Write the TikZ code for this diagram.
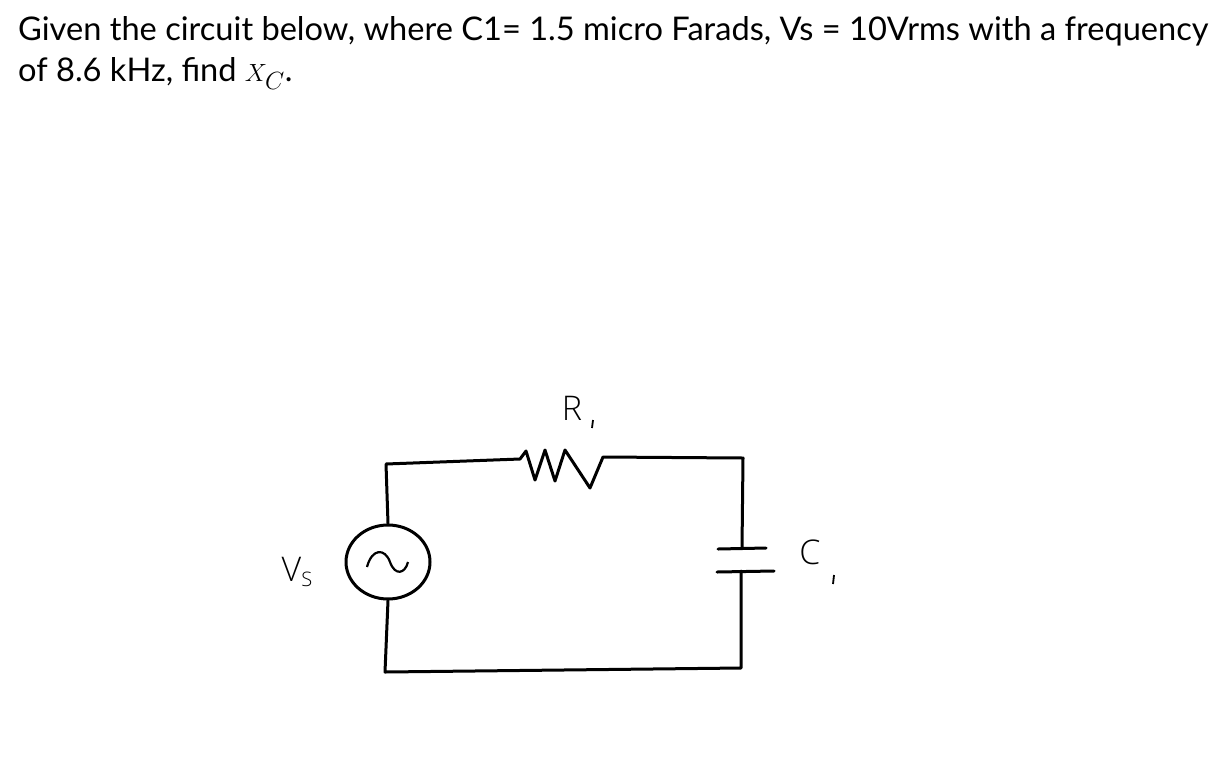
\documentclass[tikz,border=0pt]{standalone}
\usetikzlibrary{shapes.geometric}
\usepackage{fontspec}
\setmainfont{Lato}
\newfontfamily\hand{Open Sans Light}
\begin{document}
\begin{tikzpicture}[x=1pt,y=-1pt,
  wire/.style={line width=3pt,line cap=round,line join=round},
  lbl/.style={font=\hand\fontsize{34}{34}\selectfont,inner sep=0pt}]
\useasboundingbox (0,0) rectangle (1230,774);
\node[anchor=base west,inner sep=0pt,font=\fontsize{32.6}{36}\selectfont] (t1) at (18,40) {Given the circuit below, where C1= 1.5 micro Farads, Vs = 10Vrms with a frequency};
\node[anchor=base west,inner sep=0pt,font=\fontsize{32.6}{36}\selectfont] (t2) at (18,81) {of 8.6 kHz, find {\fontsize{44}{44}\selectfont$X_C$}.};
% source
\node[draw,ellipse,line width=3pt,minimum width=84pt,minimum height=74pt,inner sep=0pt] (src) at (388,562) {};
\draw[line width=2.2pt] (367,567) .. controls (372,548) and (385,548) .. (390,562) .. controls (395,576) and (405,574) .. (408,562);
\coordinate (tl) at (386,464);
\coordinate (bl) at (385,672);
\coordinate (tr) at (743,458);
\coordinate (br) at (741,668);
\coordinate (r0) at (520,459);
\coordinate (r1) at (603,457);
\coordinate (cp1) at (742,548);
\coordinate (cp2) at (741,571);
\draw[wire] (src.north) -- (tl) -- (r0) -- (526,451) -- (535,480) -- (545,450) -- (555,481) -- (565,450) -- (590,488) -- (r1) -- (tr) -- (cp1);
\draw[wire] (cp2) -- (br) -- (bl) -- (src.south);
\draw[wire] (718,549) -- (766,548);
\draw[wire] (717,572) -- (774,571);
\node[lbl] (rl) at (572,408) {R};
\node[lbl] (cl) at (810,552) {C};
\node[lbl] (vl) at (297,572) {V\raisebox{-5pt}{\fontsize{20}{20}\selectfont S}};
\draw[line width=1.8pt] (593,420) -- (592,428);
\draw[line width=1.8pt] (834,575) -- (833,584);
\end{tikzpicture}
\end{document}
